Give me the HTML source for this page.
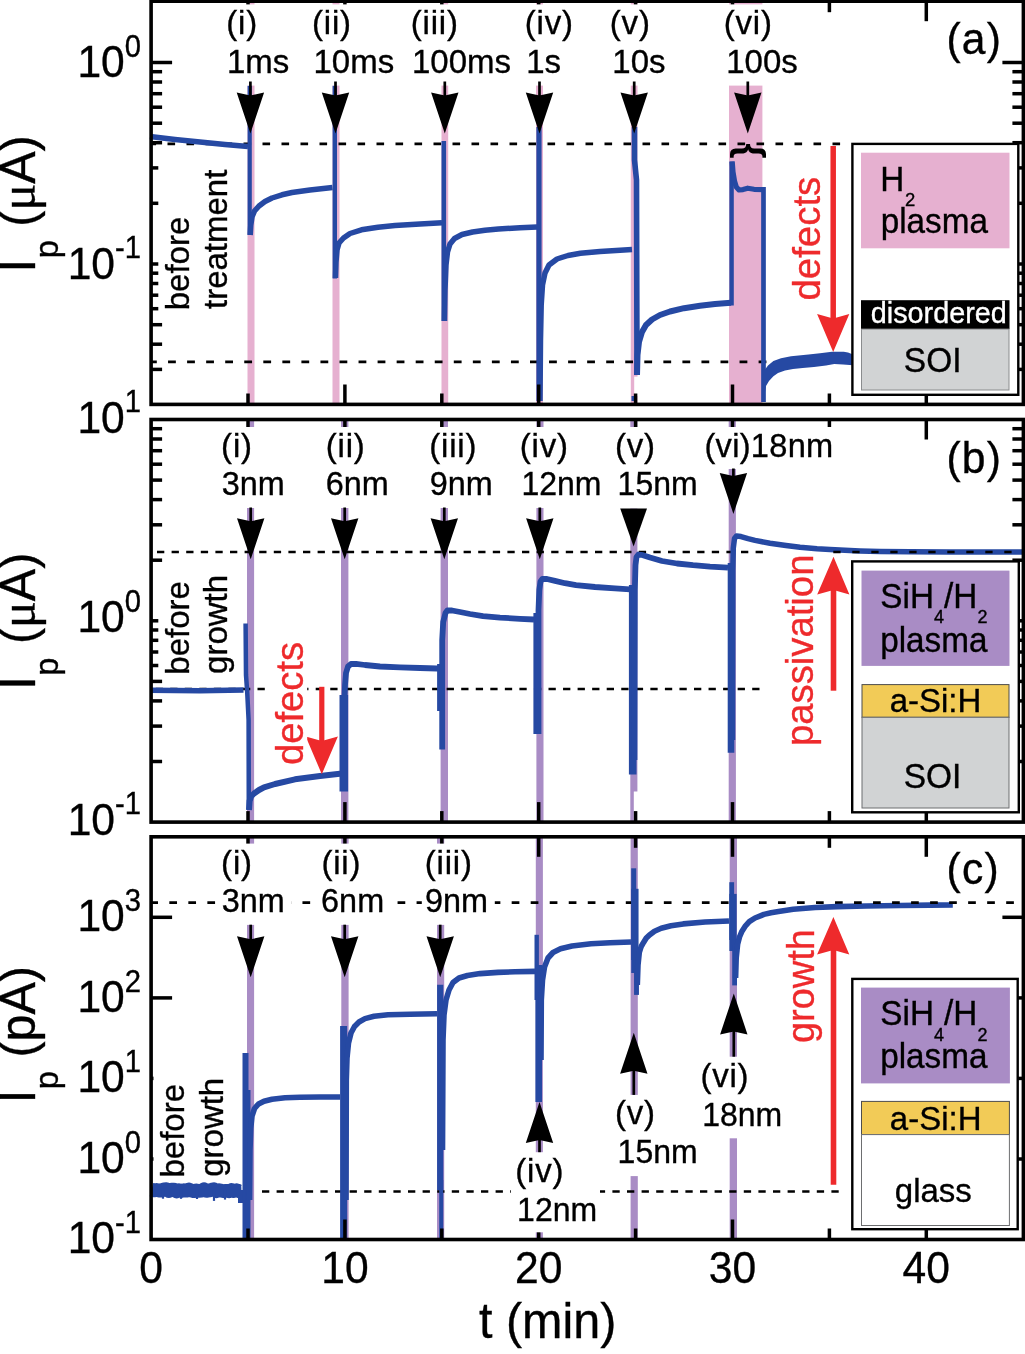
<!DOCTYPE html>
<html><head><meta charset="utf-8"><title>Figure</title>
<style>html,body{margin:0;padding:0;background:#fff}svg{display:block}text{font-family:"Liberation Sans", Arial, sans-serif;stroke-width:0.35px}</style></head>
<body><svg width="1025" height="1354" viewBox="0 0 1025 1354">
<rect width="1025" height="1354" fill="#fff"/>
<rect x="247.5" y="1.2" width="7.0" height="403.2" fill="#E6B0D0" />
<rect x="332.5" y="1.2" width="7.0" height="403.2" fill="#E6B0D0" />
<rect x="441.5" y="1.2" width="6.7" height="403.2" fill="#E6B0D0" />
<rect x="536.0" y="1.2" width="7.0" height="403.2" fill="#E6B0D0" />
<rect x="630.8" y="1.2" width="6.7" height="403.2" fill="#E6B0D0" />
<rect x="729.0" y="1.2" width="33.4" height="403.2" fill="#E6B0D0" />
<rect x="634.2" y="376.6" width="5.8" height="19.4" fill="#fff" />
<line x1="151.1" y1="143.9" x2="841.0" y2="143.9" stroke="#000" stroke-width="2.6" stroke-dasharray="7.6 11.4" stroke-dashoffset="2.6"/>
<line x1="151.1" y1="361.9" x2="800.0" y2="361.9" stroke="#000" stroke-width="2.6" stroke-dasharray="7.8 11.25" stroke-dashoffset="2.1"/>
<polyline points="150.0,136.5 175.0,139.5 200.0,142.0 225.0,144.5 248.0,146.5" fill="none" stroke="#2649A3" stroke-width="5.5" stroke-linejoin="round" stroke-linecap="butt"/>
<polyline points="249.7,85.5 249.7,235.0" fill="none" stroke="#2649A3" stroke-width="4.2" stroke-linejoin="round" stroke-linecap="butt"/>
<polyline points="250.2,235.0 250.8,225.0 252.0,217.0 254.5,211.0 259.0,206.0 265.0,201.5 272.0,198.0 282.0,194.8 292.0,192.5 310.0,190.0 332.5,187.5" fill="none" stroke="#2649A3" stroke-width="5.5" stroke-linejoin="round" stroke-linecap="butt"/>
<polyline points="334.8,85.5 334.8,278.5" fill="none" stroke="#2649A3" stroke-width="4.4" stroke-linejoin="round" stroke-linecap="butt"/>
<polyline points="335.5,278.0 336.0,262.0 337.0,250.0 339.0,243.0 343.5,238.0 350.0,233.5 361.5,229.8 378.0,227.2 395.0,225.6 420.0,224.0 442.0,222.8" fill="none" stroke="#2649A3" stroke-width="5.5" stroke-linejoin="round" stroke-linecap="butt"/>
<polyline points="443.8,141.0 443.8,321.0" fill="none" stroke="#2649A3" stroke-width="4.6" stroke-linejoin="round" stroke-linecap="butt"/>
<polyline points="444.5,321.0 445.0,290.0 446.0,265.0 447.5,252.0 450.0,244.0 454.5,238.5 462.0,234.5 472.6,232.0 485.0,230.2 498.4,229.0 520.0,227.8 537.0,227.0" fill="none" stroke="#2649A3" stroke-width="5.5" stroke-linejoin="round" stroke-linecap="butt"/>
<polyline points="539.0,127.0 539.0,401.0" fill="none" stroke="#2649A3" stroke-width="5.2" stroke-linejoin="round" stroke-linecap="butt"/>
<polyline points="540.0,401.0 540.5,340.0 541.2,305.0 542.5,285.0 545.0,273.0 549.0,265.0 557.0,259.0 568.0,255.5 580.4,253.3 600.0,251.5 632.0,249.4" fill="none" stroke="#2649A3" stroke-width="5.5" stroke-linejoin="round" stroke-linecap="butt"/>
<polyline points="634.5,127.0 634.5,160.0 636.5,180.0 637.0,375.0" fill="none" stroke="#2649A3" stroke-width="5.6" stroke-linejoin="round" stroke-linecap="butt"/>
<polyline points="634.0,396.0 634.0,401.0" fill="none" stroke="#2649A3" stroke-width="5" stroke-linejoin="round" stroke-linecap="butt"/>
<polyline points="637.0,375.0 637.5,355.0 639.0,342.0 642.0,332.0 646.0,325.0 652.0,319.5 660.0,315.0 670.0,311.5 684.0,308.2 700.0,305.8 715.0,304.0 731.0,302.8" fill="none" stroke="#2649A3" stroke-width="6" stroke-linejoin="round" stroke-linecap="butt"/>
<polyline points="731.6,305.5 731.6,161.5" fill="none" stroke="#2649A3" stroke-width="4.4" stroke-linejoin="round" stroke-linecap="butt"/>
<polyline points="732.2,161.5 733.0,172.0 734.5,181.0 736.3,187.0 739.0,190.0 743.0,189.6 747.7,188.2 754.0,189.3 764.0,189.6" fill="none" stroke="#2649A3" stroke-width="5.2" stroke-linejoin="round" stroke-linecap="butt"/>
<polyline points="763.5,187.0 763.5,402.0" fill="none" stroke="#2649A3" stroke-width="4.7" stroke-linejoin="round" stroke-linecap="butt"/>
<polygon points="765.0,369.5 768.0,365.5 773.4,361.0 781.0,358.3 791.0,356.3 808.5,354.6 820.0,353.2 832.0,351.8 843.7,351.7 848.0,352.6 853.0,354.4 853.0,365.3 843.0,364.6 834.3,364.0 826.0,365.6 814.0,367.0 802.7,368.0 793.0,369.0 785.0,370.4 778.0,373.0 773.4,376.3 769.0,381.0 766.0,386.0 765.0,392.0" fill="#2649A3"/>
<line x1="248.0" y1="404.5" x2="248.0" y2="393.5" stroke="#000" stroke-width="3.5" />
<line x1="248.0" y1="1.2" x2="248.0" y2="12.2" stroke="#000" stroke-width="3.5" />
<line x1="344.9" y1="404.5" x2="344.9" y2="384.5" stroke="#000" stroke-width="3.5" />
<line x1="344.9" y1="1.2" x2="344.9" y2="21.2" stroke="#000" stroke-width="3.5" />
<line x1="441.8" y1="404.5" x2="441.8" y2="393.5" stroke="#000" stroke-width="3.5" />
<line x1="441.8" y1="1.2" x2="441.8" y2="12.2" stroke="#000" stroke-width="3.5" />
<line x1="538.7" y1="404.5" x2="538.7" y2="384.5" stroke="#000" stroke-width="3.5" />
<line x1="538.7" y1="1.2" x2="538.7" y2="21.2" stroke="#000" stroke-width="3.5" />
<line x1="635.6" y1="404.5" x2="635.6" y2="393.5" stroke="#000" stroke-width="3.5" />
<line x1="635.6" y1="1.2" x2="635.6" y2="12.2" stroke="#000" stroke-width="3.5" />
<line x1="732.5" y1="404.5" x2="732.5" y2="384.5" stroke="#000" stroke-width="3.5" />
<line x1="732.5" y1="1.2" x2="732.5" y2="21.2" stroke="#000" stroke-width="3.5" />
<line x1="829.4" y1="404.5" x2="829.4" y2="393.5" stroke="#000" stroke-width="3.5" />
<line x1="829.4" y1="1.2" x2="829.4" y2="12.2" stroke="#000" stroke-width="3.5" />
<line x1="926.3" y1="404.5" x2="926.3" y2="384.5" stroke="#000" stroke-width="3.5" />
<line x1="926.3" y1="1.2" x2="926.3" y2="21.2" stroke="#000" stroke-width="3.5" />
<line x1="151.1" y1="62.5" x2="172.1" y2="62.5" stroke="#000" stroke-width="3.5" />
<line x1="1023.4" y1="62.5" x2="1002.4" y2="62.5" stroke="#000" stroke-width="3.5" />
<line x1="151.1" y1="264.0" x2="172.1" y2="264.0" stroke="#000" stroke-width="3.5" />
<line x1="1023.4" y1="264.0" x2="1002.4" y2="264.0" stroke="#000" stroke-width="3.5" />
<line x1="151.1" y1="369.4" x2="162.1" y2="369.4" stroke="#000" stroke-width="3.5" />
<line x1="1023.4" y1="369.4" x2="1012.4" y2="369.4" stroke="#000" stroke-width="3.5" />
<line x1="151.1" y1="344.2" x2="162.1" y2="344.2" stroke="#000" stroke-width="3.5" />
<line x1="1023.4" y1="344.2" x2="1012.4" y2="344.2" stroke="#000" stroke-width="3.5" />
<line x1="151.1" y1="324.7" x2="162.1" y2="324.7" stroke="#000" stroke-width="3.5" />
<line x1="1023.4" y1="324.7" x2="1012.4" y2="324.7" stroke="#000" stroke-width="3.5" />
<line x1="151.1" y1="308.7" x2="162.1" y2="308.7" stroke="#000" stroke-width="3.5" />
<line x1="1023.4" y1="308.7" x2="1012.4" y2="308.7" stroke="#000" stroke-width="3.5" />
<line x1="151.1" y1="295.2" x2="162.1" y2="295.2" stroke="#000" stroke-width="3.5" />
<line x1="1023.4" y1="295.2" x2="1012.4" y2="295.2" stroke="#000" stroke-width="3.5" />
<line x1="151.1" y1="283.5" x2="162.1" y2="283.5" stroke="#000" stroke-width="3.5" />
<line x1="1023.4" y1="283.5" x2="1012.4" y2="283.5" stroke="#000" stroke-width="3.5" />
<line x1="151.1" y1="273.2" x2="162.1" y2="273.2" stroke="#000" stroke-width="3.5" />
<line x1="1023.4" y1="273.2" x2="1012.4" y2="273.2" stroke="#000" stroke-width="3.5" />
<line x1="151.1" y1="203.3" x2="162.1" y2="203.3" stroke="#000" stroke-width="3.5" />
<line x1="1023.4" y1="203.3" x2="1012.4" y2="203.3" stroke="#000" stroke-width="3.5" />
<line x1="151.1" y1="167.9" x2="162.1" y2="167.9" stroke="#000" stroke-width="3.5" />
<line x1="1023.4" y1="167.9" x2="1012.4" y2="167.9" stroke="#000" stroke-width="3.5" />
<line x1="151.1" y1="142.7" x2="162.1" y2="142.7" stroke="#000" stroke-width="3.5" />
<line x1="1023.4" y1="142.7" x2="1012.4" y2="142.7" stroke="#000" stroke-width="3.5" />
<line x1="151.1" y1="123.2" x2="162.1" y2="123.2" stroke="#000" stroke-width="3.5" />
<line x1="1023.4" y1="123.2" x2="1012.4" y2="123.2" stroke="#000" stroke-width="3.5" />
<line x1="151.1" y1="107.2" x2="162.1" y2="107.2" stroke="#000" stroke-width="3.5" />
<line x1="1023.4" y1="107.2" x2="1012.4" y2="107.2" stroke="#000" stroke-width="3.5" />
<line x1="151.1" y1="93.7" x2="162.1" y2="93.7" stroke="#000" stroke-width="3.5" />
<line x1="1023.4" y1="93.7" x2="1012.4" y2="93.7" stroke="#000" stroke-width="3.5" />
<line x1="151.1" y1="82.0" x2="162.1" y2="82.0" stroke="#000" stroke-width="3.5" />
<line x1="1023.4" y1="82.0" x2="1012.4" y2="82.0" stroke="#000" stroke-width="3.5" />
<line x1="151.1" y1="71.7" x2="162.1" y2="71.7" stroke="#000" stroke-width="3.5" />
<line x1="1023.4" y1="71.7" x2="1012.4" y2="71.7" stroke="#000" stroke-width="3.5" />
<rect x="151.1" y="1.2" width="872.3" height="403.2" fill="none" stroke="#000" stroke-width="3.6"/>
<text transform="translate(141,77.0) scale(1,1.055)" font-size="42.6" stroke="#000" text-anchor="end">10<tspan font-size="29.2" dy="-19.3">0</tspan></text>
<text transform="translate(141,278.5) scale(1,1.055)" font-size="42.6" stroke="#000" text-anchor="end">10<tspan font-size="29.2" dy="-19.3">-1</tspan></text>
<text transform="translate(141,432.5) scale(1,1.055)" font-size="42.6" stroke="#000" text-anchor="end">10<tspan font-size="29.2" dy="-19.3">1</tspan></text>
<text transform="translate(34.8,272.4) rotate(-90) scale(1,1.02)" font-size="48.5" stroke="#000">I<tspan font-size="32.5" dy="22.6" dx="0.7">p</tspan><tspan dy="-22.6" font-size="48.5"> (<tspan font-family="Liberation Serif, serif" font-size="50">μ</tspan>A)</tspan></text>
<rect x="221.2" y="4.4" width="87.0" height="81.2" fill="#fff" />
<text transform="translate(228.2,34.2) scale(1,1.03)" x="-2.0" font-size="33" fill="#000" stroke="#000" text-anchor="start" letter-spacing="0.8" >(i)</text>
<text transform="translate(229.6,73.1) scale(1,1.03)" x="-2.6" font-size="33" fill="#000" stroke="#000" text-anchor="start" >1ms</text>
<line x1="250.4" y1="81.5" x2="250.4" y2="96.6" stroke="#000" stroke-width="2.7" />
<polygon points="250.4,133.6 236.7,92.6 250.4,95.6 264.1,92.6" fill="#000"/>
<rect x="307.0" y="4.4" width="87.0" height="81.2" fill="#fff" />
<text transform="translate(314.0,34.2) scale(1,1.03)" x="-2.0" font-size="33" fill="#000" stroke="#000" text-anchor="start" letter-spacing="0.8" >(ii)</text>
<text transform="translate(316.1,73.1) scale(1,1.03)" x="-2.6" font-size="33" fill="#000" stroke="#000" text-anchor="start" >10ms</text>
<line x1="335.5" y1="81.5" x2="335.5" y2="96.6" stroke="#000" stroke-width="2.7" />
<polygon points="335.5,133.6 321.8,92.6 335.5,95.6 349.2,92.6" fill="#000"/>
<rect x="405.7" y="4.4" width="107.0" height="81.2" fill="#fff" />
<text transform="translate(412.7,34.2) scale(1,1.03)" x="-2.0" font-size="33" fill="#000" stroke="#000" text-anchor="start" letter-spacing="0.8" >(iii)</text>
<text transform="translate(414.6,73.1) scale(1,1.03)" x="-2.6" font-size="33" fill="#000" stroke="#000" text-anchor="start" >100ms</text>
<line x1="444.8" y1="81.5" x2="444.8" y2="96.6" stroke="#000" stroke-width="2.7" />
<polygon points="444.8,133.6 431.1,92.6 444.8,95.6 458.5,92.6" fill="#000"/>
<rect x="519.8" y="4.4" width="87.0" height="81.2" fill="#fff" />
<text transform="translate(526.8,34.2) scale(1,1.03)" x="-2.0" font-size="33" fill="#000" stroke="#000" text-anchor="start" letter-spacing="0.8" >(iv)</text>
<text transform="translate(528.8,73.1) scale(1,1.03)" x="-2.6" font-size="33" fill="#000" stroke="#000" text-anchor="start" >1s</text>
<line x1="539.5" y1="81.5" x2="539.5" y2="96.6" stroke="#000" stroke-width="2.7" />
<polygon points="539.5,133.6 525.8,92.6 539.5,95.6 553.2,92.6" fill="#000"/>
<rect x="604.8" y="4.4" width="87.0" height="81.2" fill="#fff" />
<text transform="translate(611.8,34.2) scale(1,1.03)" x="-2.0" font-size="33" fill="#000" stroke="#000" text-anchor="start" letter-spacing="0.8" >(v)</text>
<text transform="translate(614.9,73.1) scale(1,1.03)" x="-2.6" font-size="33" fill="#000" stroke="#000" text-anchor="start" >10s</text>
<line x1="634.2" y1="81.5" x2="634.2" y2="96.6" stroke="#000" stroke-width="2.7" />
<polygon points="634.2,133.6 620.5,92.6 634.2,95.6 647.9,92.6" fill="#000"/>
<rect x="718.7" y="4.4" width="87.0" height="81.2" fill="#fff" />
<text transform="translate(725.7,34.2) scale(1,1.03)" x="-2.0" font-size="33" fill="#000" stroke="#000" text-anchor="start" letter-spacing="0.8" >(vi)</text>
<text transform="translate(728.8,73.1) scale(1,1.03)" x="-2.6" font-size="33" fill="#000" stroke="#000" text-anchor="start" >100s</text>
<line x1="747.8" y1="81.5" x2="747.8" y2="96.6" stroke="#000" stroke-width="2.7" />
<polygon points="747.8,133.6 734.1,92.6 747.8,95.6 761.5,92.6" fill="#000"/>
<text transform="translate(949.0,54.0) scale(1,1.03)" x="-2.6" font-size="42.6" fill="#000" stroke="#000" text-anchor="start" letter-spacing="1.2" >(a)</text>
<rect x="158.3" y="165.0" width="77.7" height="149.0" fill="#fff" />
<text transform="translate(189.0,308.0) rotate(-90) scale(1,1.03)" x="-2.3" font-size="33" fill="#000" stroke="#000" >before</text>
<text transform="translate(227.4,308.3) rotate(-90) scale(1,1.03)" x="-0.7" font-size="33" fill="#000" stroke="#000" >treatment</text>
<text transform="translate(737.6,143.6) rotate(90) scale(0.99,1)" font-size="39.2" font-weight="bold">{</text>
<line x1="833.2" y1="146.1" x2="833.2" y2="320.0" stroke="#EE2A2C" stroke-width="5.5" />
<polygon points="833.2,351.9 817.1,314.1 833.2,318.5 849.3,314.1" fill="#EE2A2C"/>
<text transform="translate(820.2,299.0) rotate(-90) scale(1,1.03)" x="-1.5" font-size="38.4" fill="#EE2A2C" stroke="#EE2A2C" >defects</text>
<rect x="852.4" y="143.9" width="165.9" height="250.9" fill="#fff" stroke="#000" stroke-width="2.4"/>
<rect x="861.0" y="152.7" width="148.5" height="95.6" fill="#E6B0D0" />
<rect x="861.0" y="300.2" width="148.5" height="28.9" fill="#000" />
<rect x="861.5" y="329.1" width="147.5" height="60.9" fill="#D1D3D4" stroke="#8a8c8e" stroke-width="1"/>
<text transform="translate(883.0,191.2) scale(1,1.07)" x="-2.7" font-size="33.3" fill="#000" stroke="#000" text-anchor="start" >H</text>
<text transform="translate(905.5,205.7) scale(1,1.03)" x="-0.6" font-size="18.5" fill="#000" stroke="#000" text-anchor="start" >2</text>
<text transform="translate(883.0,233.0) scale(1,1.07)" x="-2.3" font-size="33.3" fill="#000" stroke="#000" text-anchor="start" >plasma</text>
<text transform="translate(872.0,323.3) scale(1,1.03)" x="-1.2" font-size="28.8" fill="#fff" stroke="#fff" text-anchor="start" >disordered</text>
<text transform="translate(905.5,371.5) scale(1,1.03)" x="-1.7" font-size="33.5" fill="#000" stroke="#000" text-anchor="start" >SOI</text>
<rect x="247.0" y="419.5" width="7.1" height="402.6" fill="#A98CC5" />
<rect x="341.0" y="419.5" width="7.4" height="402.6" fill="#A98CC5" />
<rect x="440.6" y="419.5" width="7.4" height="402.6" fill="#A98CC5" />
<rect x="536.4" y="419.5" width="7.1" height="402.6" fill="#A98CC5" />
<rect x="630.3" y="419.5" width="7.1" height="402.6" fill="#A98CC5" />
<rect x="728.7" y="419.5" width="7.2" height="402.6" fill="#A98CC5" />
<rect x="633.8" y="791.5" width="4.2" height="30.6" fill="#fff" />
<line x1="151.1" y1="551.9" x2="766.0" y2="551.9" stroke="#000" stroke-width="2.5" stroke-dasharray="7.3 7.3" stroke-dashoffset="8.7"/>
<line x1="151.1" y1="688.9" x2="766.0" y2="688.9" stroke="#000" stroke-width="2.5" stroke-dasharray="7.3 7.25" stroke-dashoffset="10.0"/>
<polyline points="150.0,690.3 200.0,690.8 243.5,690.0" fill="none" stroke="#2649A3" stroke-width="5.5" stroke-linejoin="round" stroke-linecap="butt"/>
<polyline points="245.6,623.4 246.0,675.0 247.2,692.0 248.6,720.0 248.8,810.0" fill="none" stroke="#2649A3" stroke-width="4.5" stroke-linejoin="round" stroke-linecap="butt"/>
<polyline points="249.0,810.0 249.6,801.0 251.0,796.5 254.0,793.5 259.0,790.0 264.0,787.3 275.0,784.0 295.0,779.3 320.0,776.0 342.0,773.5" fill="none" stroke="#2649A3" stroke-width="6" stroke-linejoin="round" stroke-linecap="butt"/>
<polyline points="343.8,791.5 343.8,695.0" fill="none" stroke="#2649A3" stroke-width="8.6" stroke-linejoin="round" stroke-linecap="butt"/>
<polyline points="344.5,700.0 345.0,685.0 346.0,673.0 348.0,666.5 351.0,664.0 356.0,663.8 365.0,665.0 380.0,666.5 400.0,667.3 420.0,668.0 437.0,668.5 440.0,668.5" fill="none" stroke="#2649A3" stroke-width="5.8" stroke-linejoin="round" stroke-linecap="butt"/>
<polyline points="439.6,664.0 439.6,711.0" fill="none" stroke="#2649A3" stroke-width="5" stroke-linejoin="round" stroke-linecap="butt"/>
<polyline points="442.2,749.6 442.2,640.0 443.2,622.0 445.5,613.0 447.5,610.3 452.0,610.5 460.0,612.0 470.0,614.0 483.0,616.2 500.0,617.6 520.0,618.8 534.0,619.5" fill="none" stroke="#2649A3" stroke-width="5.8" stroke-linejoin="round" stroke-linecap="butt"/>
<polyline points="536.4,613.0 536.4,734.0" fill="none" stroke="#2649A3" stroke-width="6" stroke-linejoin="round" stroke-linecap="butt"/>
<polyline points="538.5,734.0 538.5,610.0 539.3,590.0 540.5,581.5 542.5,578.8 547.0,579.0 555.0,580.8 565.0,583.2 576.0,585.2 595.0,587.0 615.0,588.4 630.0,589.3" fill="none" stroke="#2649A3" stroke-width="5.8" stroke-linejoin="round" stroke-linecap="butt"/>
<polyline points="632.7,585.0 632.7,774.4" fill="none" stroke="#2649A3" stroke-width="7.6" stroke-linejoin="round" stroke-linecap="butt"/>
<polyline points="634.5,760.0 634.8,590.0 635.5,565.0 636.5,557.0 638.5,554.5 643.0,555.2 650.0,557.5 662.0,561.0 677.0,563.5 693.0,565.2 710.0,566.6 728.0,567.6" fill="none" stroke="#2649A3" stroke-width="5.8" stroke-linejoin="round" stroke-linecap="butt"/>
<polyline points="731.0,563.0 731.0,752.7" fill="none" stroke="#2649A3" stroke-width="6.6" stroke-linejoin="round" stroke-linecap="butt"/>
<polyline points="732.5,740.0 732.8,570.0 733.3,548.0 734.5,538.5 736.5,536.0 741.0,536.6 748.0,538.6 755.0,540.4 770.0,543.2 786.0,545.5 800.0,547.2 817.0,548.7 830.0,549.5 845.0,550.3 860.0,550.9 880.0,551.4 910.0,551.8 950.0,552.0 1023.0,552.0" fill="none" stroke="#2649A3" stroke-width="5.5" stroke-linejoin="round" stroke-linecap="butt"/>
<line x1="833.3" y1="552.0" x2="1023.4" y2="552.0" stroke="#000" stroke-width="2.5" stroke-dasharray="7.3 11.7" stroke-dashoffset="0.0"/>
<line x1="248.0" y1="822.1" x2="248.0" y2="811.1" stroke="#000" stroke-width="3.5" />
<line x1="248.0" y1="419.5" x2="248.0" y2="430.5" stroke="#000" stroke-width="3.5" />
<line x1="344.9" y1="822.1" x2="344.9" y2="802.1" stroke="#000" stroke-width="3.5" />
<line x1="344.9" y1="419.5" x2="344.9" y2="439.5" stroke="#000" stroke-width="3.5" />
<line x1="441.8" y1="822.1" x2="441.8" y2="811.1" stroke="#000" stroke-width="3.5" />
<line x1="441.8" y1="419.5" x2="441.8" y2="430.5" stroke="#000" stroke-width="3.5" />
<line x1="538.7" y1="822.1" x2="538.7" y2="802.1" stroke="#000" stroke-width="3.5" />
<line x1="538.7" y1="419.5" x2="538.7" y2="439.5" stroke="#000" stroke-width="3.5" />
<line x1="635.6" y1="822.1" x2="635.6" y2="811.1" stroke="#000" stroke-width="3.5" />
<line x1="635.6" y1="419.5" x2="635.6" y2="430.5" stroke="#000" stroke-width="3.5" />
<line x1="732.5" y1="822.1" x2="732.5" y2="802.1" stroke="#000" stroke-width="3.5" />
<line x1="732.5" y1="419.5" x2="732.5" y2="439.5" stroke="#000" stroke-width="3.5" />
<line x1="829.4" y1="822.1" x2="829.4" y2="811.1" stroke="#000" stroke-width="3.5" />
<line x1="829.4" y1="419.5" x2="829.4" y2="430.5" stroke="#000" stroke-width="3.5" />
<line x1="926.3" y1="822.1" x2="926.3" y2="802.1" stroke="#000" stroke-width="3.5" />
<line x1="926.3" y1="419.5" x2="926.3" y2="439.5" stroke="#000" stroke-width="3.5" />
<line x1="151.1" y1="620.8" x2="172.1" y2="620.8" stroke="#000" stroke-width="3.5" />
<line x1="1023.4" y1="620.8" x2="1002.4" y2="620.8" stroke="#000" stroke-width="3.5" />
<line x1="151.1" y1="761.5" x2="162.1" y2="761.5" stroke="#000" stroke-width="3.5" />
<line x1="1023.4" y1="761.5" x2="1012.4" y2="761.5" stroke="#000" stroke-width="3.5" />
<line x1="151.1" y1="726.1" x2="162.1" y2="726.1" stroke="#000" stroke-width="3.5" />
<line x1="1023.4" y1="726.1" x2="1012.4" y2="726.1" stroke="#000" stroke-width="3.5" />
<line x1="151.1" y1="700.9" x2="162.1" y2="700.9" stroke="#000" stroke-width="3.5" />
<line x1="1023.4" y1="700.9" x2="1012.4" y2="700.9" stroke="#000" stroke-width="3.5" />
<line x1="151.1" y1="681.4" x2="162.1" y2="681.4" stroke="#000" stroke-width="3.5" />
<line x1="1023.4" y1="681.4" x2="1012.4" y2="681.4" stroke="#000" stroke-width="3.5" />
<line x1="151.1" y1="665.5" x2="162.1" y2="665.5" stroke="#000" stroke-width="3.5" />
<line x1="1023.4" y1="665.5" x2="1012.4" y2="665.5" stroke="#000" stroke-width="3.5" />
<line x1="151.1" y1="652.0" x2="162.1" y2="652.0" stroke="#000" stroke-width="3.5" />
<line x1="1023.4" y1="652.0" x2="1012.4" y2="652.0" stroke="#000" stroke-width="3.5" />
<line x1="151.1" y1="640.3" x2="162.1" y2="640.3" stroke="#000" stroke-width="3.5" />
<line x1="1023.4" y1="640.3" x2="1012.4" y2="640.3" stroke="#000" stroke-width="3.5" />
<line x1="151.1" y1="630.0" x2="162.1" y2="630.0" stroke="#000" stroke-width="3.5" />
<line x1="1023.4" y1="630.0" x2="1012.4" y2="630.0" stroke="#000" stroke-width="3.5" />
<line x1="151.1" y1="560.2" x2="162.1" y2="560.2" stroke="#000" stroke-width="3.5" />
<line x1="1023.4" y1="560.2" x2="1012.4" y2="560.2" stroke="#000" stroke-width="3.5" />
<line x1="151.1" y1="524.8" x2="162.1" y2="524.8" stroke="#000" stroke-width="3.5" />
<line x1="1023.4" y1="524.8" x2="1012.4" y2="524.8" stroke="#000" stroke-width="3.5" />
<line x1="151.1" y1="499.6" x2="162.1" y2="499.6" stroke="#000" stroke-width="3.5" />
<line x1="1023.4" y1="499.6" x2="1012.4" y2="499.6" stroke="#000" stroke-width="3.5" />
<line x1="151.1" y1="480.1" x2="162.1" y2="480.1" stroke="#000" stroke-width="3.5" />
<line x1="1023.4" y1="480.1" x2="1012.4" y2="480.1" stroke="#000" stroke-width="3.5" />
<line x1="151.1" y1="464.2" x2="162.1" y2="464.2" stroke="#000" stroke-width="3.5" />
<line x1="1023.4" y1="464.2" x2="1012.4" y2="464.2" stroke="#000" stroke-width="3.5" />
<line x1="151.1" y1="450.7" x2="162.1" y2="450.7" stroke="#000" stroke-width="3.5" />
<line x1="1023.4" y1="450.7" x2="1012.4" y2="450.7" stroke="#000" stroke-width="3.5" />
<line x1="151.1" y1="439.0" x2="162.1" y2="439.0" stroke="#000" stroke-width="3.5" />
<line x1="1023.4" y1="439.0" x2="1012.4" y2="439.0" stroke="#000" stroke-width="3.5" />
<line x1="151.1" y1="428.7" x2="162.1" y2="428.7" stroke="#000" stroke-width="3.5" />
<line x1="1023.4" y1="428.7" x2="1012.4" y2="428.7" stroke="#000" stroke-width="3.5" />
<rect x="151.1" y="419.5" width="872.3" height="402.6" fill="none" stroke="#000" stroke-width="3.6"/>
<text transform="translate(141,632.4) scale(1,1.055)" font-size="42.6" stroke="#000" text-anchor="end">10<tspan font-size="29.2" dy="-19.3">0</tspan></text>
<text transform="translate(141,834.8) scale(1,1.055)" font-size="42.6" stroke="#000" text-anchor="end">10<tspan font-size="29.2" dy="-19.3">-1</tspan></text>
<text transform="translate(34.8,689.8) rotate(-90) scale(1,1.02)" font-size="48.5" stroke="#000">I<tspan font-size="32.5" dy="22.6" dx="0.7">p</tspan><tspan dy="-22.6" font-size="48.5"> (<tspan font-family="Liberation Serif, serif" font-size="50">μ</tspan>A)</tspan></text>
<rect x="158.3" y="572.0" width="77.7" height="105.0" fill="#fff" />
<text transform="translate(189.0,672.4) rotate(-90) scale(1,1.03)" x="-2.3" font-size="33" fill="#000" stroke="#000" >before</text>
<text transform="translate(227.4,672.6) rotate(-90) scale(1,1.03)" x="-1.3" font-size="33" fill="#000" stroke="#000" >growth</text>
<rect x="216.1" y="427.0" width="87.0" height="81.0" fill="#fff" />
<text transform="translate(223.1,456.5) scale(1,1.03)" x="-2.0" font-size="33" fill="#000" stroke="#000" text-anchor="start" letter-spacing="0.8" >(i)</text>
<text transform="translate(223.1,495.3) scale(1,1.05)" x="-1.3" font-size="32.4" fill="#000" stroke="#000" text-anchor="start" >3nm</text>
<line x1="250.7" y1="507.5" x2="250.7" y2="522.3" stroke="#000" stroke-width="2.7" />
<polygon points="250.7,559.3 237.0,518.3 250.7,521.3 264.4,518.3" fill="#000"/>
<rect x="320.7" y="427.0" width="87.0" height="81.0" fill="#fff" />
<text transform="translate(327.7,456.5) scale(1,1.03)" x="-2.0" font-size="33" fill="#000" stroke="#000" text-anchor="start" letter-spacing="0.8" >(ii)</text>
<text transform="translate(327.0,495.3) scale(1,1.05)" x="-1.3" font-size="32.4" fill="#000" stroke="#000" text-anchor="start" >6nm</text>
<line x1="344.7" y1="507.5" x2="344.7" y2="522.3" stroke="#000" stroke-width="2.7" />
<polygon points="344.7,559.3 331.0,518.3 344.7,521.3 358.4,518.3" fill="#000"/>
<rect x="424.3" y="427.0" width="87.0" height="81.0" fill="#fff" />
<text transform="translate(431.3,456.5) scale(1,1.03)" x="-2.0" font-size="33" fill="#000" stroke="#000" text-anchor="start" letter-spacing="0.8" >(iii)</text>
<text transform="translate(431.3,495.3) scale(1,1.05)" x="-1.6" font-size="32.4" fill="#000" stroke="#000" text-anchor="start" >9nm</text>
<line x1="444.3" y1="507.5" x2="444.3" y2="522.3" stroke="#000" stroke-width="2.7" />
<polygon points="444.3,559.3 430.6,518.3 444.3,521.3 458.0,518.3" fill="#000"/>
<rect x="514.8" y="427.0" width="87.0" height="81.0" fill="#fff" />
<text transform="translate(521.8,456.5) scale(1,1.03)" x="-2.0" font-size="33" fill="#000" stroke="#000" text-anchor="start" letter-spacing="0.8" >(iv)</text>
<text transform="translate(524.0,495.3) scale(1,1.05)" x="-2.6" font-size="32" fill="#000" stroke="#000" text-anchor="start" >12nm</text>
<line x1="539.8" y1="507.5" x2="539.8" y2="522.3" stroke="#000" stroke-width="2.7" />
<polygon points="539.8,559.3 526.1,518.3 539.8,521.3 553.5,518.3" fill="#000"/>
<rect x="610.0" y="427.0" width="90.0" height="81.6" fill="#fff" />
<text transform="translate(617.0,456.5) scale(1,1.03)" x="-2.0" font-size="33" fill="#000" stroke="#000" text-anchor="start" letter-spacing="0.8" >(v)</text>
<text transform="translate(620.2,495.3) scale(1,1.05)" x="-2.6" font-size="32" fill="#000" stroke="#000" text-anchor="start" >15nm</text>
<polygon points="633.6,546.5 620.2,508.6 647,508.6" fill="#000"/>
<rect x="700.0" y="427.0" width="134.0" height="42.0" fill="#fff" />
<text transform="translate(706.4,456.5) scale(1,1.03)" x="-2.0" font-size="32.6" fill="#000" stroke="#000" text-anchor="start" letter-spacing="0.3" >(vi)18nm</text>
<line x1="733.4" y1="468.5" x2="733.4" y2="476.9" stroke="#000" stroke-width="2.7" />
<polygon points="733.4,513.9 719.7,472.9 733.4,475.9 747.1,472.9" fill="#000"/>
<text transform="translate(949.0,472.5) scale(1,1.03)" x="-2.6" font-size="42.6" fill="#000" stroke="#000" text-anchor="start" letter-spacing="1.2" >(b)</text>
<line x1="321.8" y1="686.8" x2="321.8" y2="742.0" stroke="#EE2A2C" stroke-width="5.2" />
<polygon points="321.8,774.2 305.7,736.5 321.8,740.9 337.9,736.5" fill="#EE2A2C"/>
<rect x="272.0" y="640.0" width="35.2" height="128.0" fill="#fff" />
<text transform="translate(302.8,763.6) rotate(-90) scale(1,1.03)" x="-1.5" font-size="38.2" fill="#EE2A2C" stroke="#EE2A2C" >defects</text>
<line x1="833.5" y1="690.7" x2="833.5" y2="589.0" stroke="#EE2A2C" stroke-width="5.6" />
<polygon points="833.5,556.8 817.2,594.4 833.5,590 849.4,594.4" fill="#EE2A2C"/>
<text transform="translate(812.5,743.4) rotate(-90) scale(1,1.03)" x="-2.7" font-size="38.3" fill="#EE2A2C" stroke="#EE2A2C" >passivation</text>
<rect x="852.2" y="561.4" width="166.6" height="250.9" fill="#fff" stroke="#000" stroke-width="2.4"/>
<rect x="861.5" y="570.6" width="148.0" height="95.3" fill="#A98CC5" />
<rect x="862.0" y="684.6" width="147.0" height="32.7" fill="#F2CB57" stroke="#4d4d4d" stroke-width="1"/>
<rect x="862.0" y="717.3" width="147.0" height="90.7" fill="#D1D3D4" stroke="#6d6e70" stroke-width="1"/>
<text transform="translate(880.3,608.1) scale(1,1.07)" font-size="33.3" stroke="#000">SiH<tspan font-size="18" dy="14.3" dx="0">4</tspan><tspan font-size="33.3" dy="-14.3" dx="0">/H</tspan><tspan font-size="18" dy="14.3" dx="0.3">2</tspan></text>
<text transform="translate(882.5,651.6) scale(1,1.07)" x="-2.3" font-size="33.3" fill="#000" stroke="#000" text-anchor="start" >plasma</text>
<text transform="translate(891.0,712.4) scale(1,1.03)" x="-1.3" font-size="33" fill="#000" stroke="#000" text-anchor="start" >a-Si:H</text>
<text transform="translate(905.4,788.4) scale(1,1.03)" x="-1.7" font-size="33.5" fill="#000" stroke="#000" text-anchor="start" >SOI</text>
<rect x="247.0" y="836.8" width="7.1" height="402.7" fill="#A98CC5" />
<rect x="341.3" y="836.8" width="7.3" height="402.7" fill="#A98CC5" />
<rect x="437.0" y="836.8" width="7.2" height="402.7" fill="#A98CC5" />
<rect x="535.8" y="836.8" width="7.1" height="402.7" fill="#A98CC5" />
<rect x="630.6" y="836.8" width="7.2" height="402.7" fill="#A98CC5" />
<rect x="729.7" y="836.8" width="7.3" height="402.7" fill="#A98CC5" />
<line x1="151.1" y1="902.6" x2="846.0" y2="902.6" stroke="#000" stroke-width="2.7" stroke-dasharray="7.7 11.32" stroke-dashoffset="0.8"/>
<line x1="262.0" y1="1191.4" x2="841.0" y2="1191.4" stroke="#000" stroke-width="2.5" stroke-dasharray="7.3 7.3" stroke-dashoffset="0.0"/>
<polyline points="151.5,1189.7 154.0,1190.4 156.5,1190.0 159.0,1190.5 161.5,1190.6 164.0,1189.3 166.5,1189.1 169.0,1191.1 171.5,1189.7 174.0,1189.7 176.5,1191.5 179.0,1190.2 181.5,1191.1 184.0,1190.2 186.5,1190.6 189.0,1189.5 191.5,1190.6 194.0,1191.2 196.5,1190.4 199.0,1190.9 201.5,1190.7 204.0,1189.3 206.5,1190.9 209.0,1190.5 211.5,1189.8 214.0,1189.2 216.5,1191.2 219.0,1190.2 221.5,1190.8 224.0,1191.2 226.5,1190.8 229.0,1191.3 231.5,1190.0 234.0,1191.0 236.5,1190.2 239.0,1191.3 241.5,1191.2" fill="none" stroke="#2649A3" stroke-width="13.8" stroke-linejoin="round" stroke-linecap="butt"/>
<line x1="163.0" y1="1190.0" x2="163.0" y2="1198.7" stroke="#2649A3" stroke-width="2.2" />
<line x1="181.0" y1="1190.0" x2="181.0" y2="1198.8" stroke="#2649A3" stroke-width="2.2" />
<line x1="197.0" y1="1190.0" x2="197.0" y2="1199.0" stroke="#2649A3" stroke-width="2.2" />
<line x1="214.0" y1="1190.0" x2="214.0" y2="1200.9" stroke="#2649A3" stroke-width="2.2" />
<line x1="225.0" y1="1190.0" x2="225.0" y2="1199.6" stroke="#2649A3" stroke-width="2.2" />
<rect x="238.0" y="1190.0" width="5.5" height="13.0" fill="#2649A3" />
<polyline points="245.5,1053.0 245.5,1239.0" fill="none" stroke="#2649A3" stroke-width="6" stroke-linejoin="round" stroke-linecap="butt"/>
<polyline points="248.0,1090.0 248.0,1239.0" fill="none" stroke="#2649A3" stroke-width="5" stroke-linejoin="round" stroke-linecap="butt"/>
<polyline points="249.6,1200.0 250.0,1150.0 250.8,1128.0 252.0,1116.0 254.5,1108.5 258.5,1104.0 264.0,1101.2 272.0,1099.2 285.0,1097.8 300.0,1097.2 320.0,1097.0 340.0,1097.0" fill="none" stroke="#2649A3" stroke-width="5.6" stroke-linejoin="round" stroke-linecap="butt"/>
<polyline points="343.6,1026.0 343.6,1239.0" fill="none" stroke="#2649A3" stroke-width="7" stroke-linejoin="round" stroke-linecap="butt"/>
<polyline points="346.0,1200.0 346.3,1080.0 347.0,1058.0 348.5,1043.0 351.0,1033.0 354.5,1026.5 359.0,1022.0 365.0,1018.6 374.0,1016.3 388.0,1014.8 410.0,1014.2 437.0,1013.8" fill="none" stroke="#2649A3" stroke-width="5.6" stroke-linejoin="round" stroke-linecap="butt"/>
<polyline points="440.2,984.7 440.2,1190.0" fill="none" stroke="#2649A3" stroke-width="6.2" stroke-linejoin="round" stroke-linecap="butt"/>
<polyline points="441.2,1180.0 441.2,1239.0" fill="none" stroke="#2649A3" stroke-width="4" stroke-linejoin="round" stroke-linecap="butt"/>
<polyline points="442.5,1150.0 443.0,1040.0 444.0,1015.0 446.0,1000.0 449.0,990.0 453.0,982.5 459.0,978.0 467.5,975.5 480.0,973.6 498.0,972.4 515.0,971.8 535.0,971.4" fill="none" stroke="#2649A3" stroke-width="5.6" stroke-linejoin="round" stroke-linecap="butt"/>
<polyline points="536.7,934.8 536.7,1000.0" fill="none" stroke="#2649A3" stroke-width="4.4" stroke-linejoin="round" stroke-linecap="butt"/>
<polyline points="538.7,965.0 538.7,1102.0" fill="none" stroke="#2649A3" stroke-width="6.6" stroke-linejoin="round" stroke-linecap="butt"/>
<polyline points="541.0,1060.0 541.3,1000.0 542.5,980.0 544.5,967.0 548.0,958.0 553.0,952.5 560.5,948.8 572.0,946.0 591.0,943.8 610.0,942.7 631.0,942.0" fill="none" stroke="#2649A3" stroke-width="5.6" stroke-linejoin="round" stroke-linecap="butt"/>
<polyline points="633.7,868.3 633.7,960.0" fill="none" stroke="#2649A3" stroke-width="5" stroke-linejoin="round" stroke-linecap="butt"/>
<polyline points="634.9,888.8 634.9,973.0" fill="none" stroke="#2649A3" stroke-width="7.3" stroke-linejoin="round" stroke-linecap="butt"/>
<polyline points="636.5,965.0 636.5,994.9" fill="none" stroke="#2649A3" stroke-width="4.9" stroke-linejoin="round" stroke-linecap="butt"/>
<polyline points="637.3,985.0 638.0,965.0 639.3,952.4 641.2,946.5 643.7,942.2 646.3,938.0 649.5,934.9 654.5,931.2 661.2,928.3 671.0,925.8 683.2,923.9 705.1,922.0 729.0,921.0" fill="none" stroke="#2649A3" stroke-width="5.6" stroke-linejoin="round" stroke-linecap="butt"/>
<polyline points="731.7,882.2 731.7,940.0" fill="none" stroke="#2649A3" stroke-width="4.8" stroke-linejoin="round" stroke-linecap="butt"/>
<polyline points="733.0,893.9 733.0,951.0" fill="none" stroke="#2649A3" stroke-width="7.3" stroke-linejoin="round" stroke-linecap="butt"/>
<polyline points="734.6,945.0 734.6,985.4" fill="none" stroke="#2649A3" stroke-width="4.8" stroke-linejoin="round" stroke-linecap="butt"/>
<polyline points="735.6,978.0 736.2,958.0 737.6,944.4 739.5,937.0 742.0,931.2 745.5,925.8 749.3,921.7 755.0,918.0 763.9,914.4 771.0,912.7 778.5,911.5 793.2,909.3 815.1,907.5 837.1,906.6 866.3,906.0 900.0,905.5 930.0,905.1 952.8,905.0" fill="none" stroke="#2649A3" stroke-width="5.6" stroke-linejoin="round" stroke-linecap="butt"/>
<line x1="846.0" y1="902.6" x2="1023.4" y2="902.6" stroke="#000" stroke-width="2.7" stroke-dasharray="7.7 11.32" stroke-dashoffset="11.0"/>
<line x1="248.0" y1="1239.5" x2="248.0" y2="1228.5" stroke="#000" stroke-width="3.5" />
<line x1="248.0" y1="836.8" x2="248.0" y2="847.8" stroke="#000" stroke-width="3.5" />
<line x1="344.9" y1="1239.5" x2="344.9" y2="1219.5" stroke="#000" stroke-width="3.5" />
<line x1="344.9" y1="836.8" x2="344.9" y2="856.8" stroke="#000" stroke-width="3.5" />
<line x1="441.8" y1="1239.5" x2="441.8" y2="1228.5" stroke="#000" stroke-width="3.5" />
<line x1="441.8" y1="836.8" x2="441.8" y2="847.8" stroke="#000" stroke-width="3.5" />
<line x1="538.7" y1="1239.5" x2="538.7" y2="1219.5" stroke="#000" stroke-width="3.5" />
<line x1="538.7" y1="836.8" x2="538.7" y2="856.8" stroke="#000" stroke-width="3.5" />
<line x1="635.6" y1="1239.5" x2="635.6" y2="1228.5" stroke="#000" stroke-width="3.5" />
<line x1="635.6" y1="836.8" x2="635.6" y2="847.8" stroke="#000" stroke-width="3.5" />
<line x1="732.5" y1="1239.5" x2="732.5" y2="1219.5" stroke="#000" stroke-width="3.5" />
<line x1="732.5" y1="836.8" x2="732.5" y2="856.8" stroke="#000" stroke-width="3.5" />
<line x1="829.4" y1="1239.5" x2="829.4" y2="1228.5" stroke="#000" stroke-width="3.5" />
<line x1="829.4" y1="836.8" x2="829.4" y2="847.8" stroke="#000" stroke-width="3.5" />
<line x1="926.3" y1="1239.5" x2="926.3" y2="1219.5" stroke="#000" stroke-width="3.5" />
<line x1="926.3" y1="836.8" x2="926.3" y2="856.8" stroke="#000" stroke-width="3.5" />
<line x1="151.1" y1="1159.0" x2="172.1" y2="1159.0" stroke="#000" stroke-width="3.5" />
<line x1="1023.4" y1="1159.0" x2="1002.4" y2="1159.0" stroke="#000" stroke-width="3.5" />
<line x1="151.1" y1="1078.4" x2="172.1" y2="1078.4" stroke="#000" stroke-width="3.5" />
<line x1="1023.4" y1="1078.4" x2="1002.4" y2="1078.4" stroke="#000" stroke-width="3.5" />
<line x1="151.1" y1="997.9" x2="172.1" y2="997.9" stroke="#000" stroke-width="3.5" />
<line x1="1023.4" y1="997.9" x2="1002.4" y2="997.9" stroke="#000" stroke-width="3.5" />
<line x1="151.1" y1="917.3" x2="172.1" y2="917.3" stroke="#000" stroke-width="3.5" />
<line x1="1023.4" y1="917.3" x2="1002.4" y2="917.3" stroke="#000" stroke-width="3.5" />
<rect x="151.1" y="836.8" width="872.3" height="402.7" fill="none" stroke="#000" stroke-width="3.6"/>
<text transform="translate(141,931.3) scale(1,1.055)" font-size="42.6" stroke="#000" text-anchor="end">10<tspan font-size="29.2" dy="-19.3">3</tspan></text>
<text transform="translate(141,1011.9) scale(1,1.055)" font-size="42.6" stroke="#000" text-anchor="end">10<tspan font-size="29.2" dy="-19.3">2</tspan></text>
<text transform="translate(141,1092.4) scale(1,1.055)" font-size="42.6" stroke="#000" text-anchor="end">10<tspan font-size="29.2" dy="-19.3">1</tspan></text>
<text transform="translate(141,1173.0) scale(1,1.055)" font-size="42.6" stroke="#000" text-anchor="end">10<tspan font-size="29.2" dy="-19.3">0</tspan></text>
<text transform="translate(141,1253.2) scale(1,1.055)" font-size="42.6" stroke="#000" text-anchor="end">10<tspan font-size="29.2" dy="-19.3">-1</tspan></text>
<text transform="translate(34.8,1103.3) rotate(-90) scale(1,1.02)" font-size="48.5" stroke="#000">I<tspan font-size="32.5" dy="22.6" dx="0.7">p</tspan><tspan dy="-22.6" font-size="48.5"> (pA)</tspan></text>
<rect x="153.5" y="1074.0" width="78.5" height="107.0" fill="#fff" />
<text transform="translate(184.3,1175.2) rotate(-90) scale(1,1.03)" x="-2.3" font-size="33" fill="#000" stroke="#000" >before</text>
<text transform="translate(222.7,1175.5) rotate(-90) scale(1,1.03)" x="-1.3" font-size="33" fill="#000" stroke="#000" >growth</text>
<rect x="218.1" y="843.6" width="73.0" height="81.3" fill="#fff" />
<text transform="translate(223.1,873.7) scale(1,1.03)" x="-2.0" font-size="33" fill="#000" stroke="#000" text-anchor="start" letter-spacing="0.8" >(i)</text>
<text transform="translate(223.1,911.8) scale(1,1.05)" x="-1.3" font-size="32.4" fill="#000" stroke="#000" text-anchor="start" >3nm</text>
<line x1="250.7" y1="924.7" x2="250.7" y2="940.3" stroke="#000" stroke-width="2.7" />
<polygon points="250.7,977.3 237.0,936.3 250.7,939.3 264.4,936.3" fill="#000"/>
<rect x="318.4" y="843.6" width="73.0" height="81.3" fill="#fff" />
<text transform="translate(323.4,873.7) scale(1,1.03)" x="-2.0" font-size="33" fill="#000" stroke="#000" text-anchor="start" letter-spacing="0.8" >(ii)</text>
<text transform="translate(322.4,911.8) scale(1,1.05)" x="-1.3" font-size="32.4" fill="#000" stroke="#000" text-anchor="start" >6nm</text>
<line x1="344.7" y1="924.7" x2="344.7" y2="940.3" stroke="#000" stroke-width="2.7" />
<polygon points="344.7,977.3 331.0,936.3 344.7,939.3 358.4,936.3" fill="#000"/>
<rect x="421.8" y="843.6" width="73.0" height="81.3" fill="#fff" />
<text transform="translate(426.8,873.7) scale(1,1.03)" x="-2.0" font-size="33" fill="#000" stroke="#000" text-anchor="start" letter-spacing="0.8" >(iii)</text>
<text transform="translate(426.6,911.8) scale(1,1.05)" x="-1.6" font-size="32.4" fill="#000" stroke="#000" text-anchor="start" >9nm</text>
<line x1="440.2" y1="924.7" x2="440.2" y2="940.3" stroke="#000" stroke-width="2.7" />
<polygon points="440.2,977.3 426.5,936.3 440.2,939.3 453.9,936.3" fill="#000"/>
<rect x="511.0" y="1152.2" width="89.0" height="80.1" fill="#fff" />
<text transform="translate(517.2,1181.7) scale(1,1.03)" x="-2.0" font-size="33" fill="#000" stroke="#000" text-anchor="start" letter-spacing="0.8" >(iv)</text>
<text transform="translate(519.7,1220.5) scale(1,1.05)" x="-2.6" font-size="32" fill="#000" stroke="#000" text-anchor="start" >12nm</text>
<line x1="539.5" y1="1152.2" x2="539.5" y2="1139.0" stroke="#000" stroke-width="2.7" />
<polygon points="539.5,1102.0 525.8,1143.0 539.5,1140.0 553.2,1143.0" fill="#000"/>
<rect x="610.0" y="1094.9" width="90.0" height="81.2" fill="#fff" />
<text transform="translate(617.0,1124.3) scale(1,1.03)" x="-2.0" font-size="33" fill="#000" stroke="#000" text-anchor="start" letter-spacing="0.8" >(v)</text>
<text transform="translate(620.2,1163.1) scale(1,1.05)" x="-2.6" font-size="32" fill="#000" stroke="#000" text-anchor="start" >15nm</text>
<line x1="633.8" y1="1094.9" x2="633.8" y2="1069.8" stroke="#000" stroke-width="2.7" />
<polygon points="633.8,1032.8 620.1,1073.8 633.8,1070.8 647.5,1073.8" fill="#000"/>
<rect x="697.0" y="1056.7" width="88.0" height="81.6" fill="#fff" />
<text transform="translate(702.4,1087.1) scale(1,1.03)" x="-2.0" font-size="33" fill="#000" stroke="#000" text-anchor="start" letter-spacing="0.8" >(vi)</text>
<text transform="translate(704.8,1125.9) scale(1,1.05)" x="-2.6" font-size="32" fill="#000" stroke="#000" text-anchor="start" >18nm</text>
<line x1="733.8" y1="1056.7" x2="733.8" y2="1030.4" stroke="#000" stroke-width="2.7" />
<polygon points="733.8,993.4 720.1,1034.4 733.8,1031.4 747.5,1034.4" fill="#000"/>
<text transform="translate(949.2,884.0) scale(1,1.03)" x="-2.6" font-size="42.6" fill="#000" stroke="#000" text-anchor="start" letter-spacing="1.2" >(c)</text>
<line x1="833.5" y1="1184.8" x2="833.5" y2="949.0" stroke="#EE2A2C" stroke-width="5.6" />
<polygon points="833.4,917.1 817.1,954.4 833.4,950 849.3,954.4" fill="#EE2A2C"/>
<text transform="translate(814.0,1041.5) rotate(-90) scale(1,1.03)" x="-1.5" font-size="37.9" fill="#EE2A2C" stroke="#EE2A2C" >growth</text>
<rect x="852.3" y="978.9" width="165.4" height="250.3" fill="#fff" stroke="#000" stroke-width="2.4"/>
<rect x="861.0" y="987.6" width="148.9" height="95.8" fill="#A98CC5" />
<rect x="861.5" y="1101.4" width="147.9" height="33.2" fill="#F2CB57" stroke="#4d4d4d" stroke-width="1"/>
<rect x="861.5" y="1134.6" width="147.9" height="90.9" fill="#fff" stroke="#6d6e70" stroke-width="1"/>
<text transform="translate(880.3,1025.4) scale(1,1.07)" font-size="33.3" stroke="#000">SiH<tspan font-size="18" dy="14.3" dx="0">4</tspan><tspan font-size="33.3" dy="-14.3" dx="0">/H</tspan><tspan font-size="18" dy="14.3" dx="0.3">2</tspan></text>
<text transform="translate(882.5,1068.4) scale(1,1.07)" x="-2.3" font-size="33.3" fill="#000" stroke="#000" text-anchor="start" >plasma</text>
<text transform="translate(891.1,1130.2) scale(1,1.03)" x="-1.3" font-size="33" fill="#000" stroke="#000" text-anchor="start" >a-Si:H</text>
<text transform="translate(896.1,1202.2) scale(1,1.03)" x="-1.3" font-size="33" fill="#000" stroke="#000" text-anchor="start" >glass</text>
<text transform="translate(151.1,1283.3) scale(1,1.055)" x="0.0" font-size="42.6" fill="#000" stroke="#000" text-anchor="middle" >0</text>
<text transform="translate(344.9,1283.3) scale(1,1.055)" x="0.0" font-size="42.6" fill="#000" stroke="#000" text-anchor="middle" >10</text>
<text transform="translate(538.7,1283.3) scale(1,1.055)" x="0.0" font-size="42.6" fill="#000" stroke="#000" text-anchor="middle" >20</text>
<text transform="translate(732.5,1283.3) scale(1,1.055)" x="0.0" font-size="42.6" fill="#000" stroke="#000" text-anchor="middle" >30</text>
<text transform="translate(926.3,1283.3) scale(1,1.055)" x="0.0" font-size="42.6" fill="#000" stroke="#000" text-anchor="middle" >40</text>
<text transform="translate(480.0,1338.0) scale(1,1.02)" x="-1.0" font-size="48.5" fill="#000" stroke="#000" text-anchor="start" >t (min)</text>
</svg></body></html>
